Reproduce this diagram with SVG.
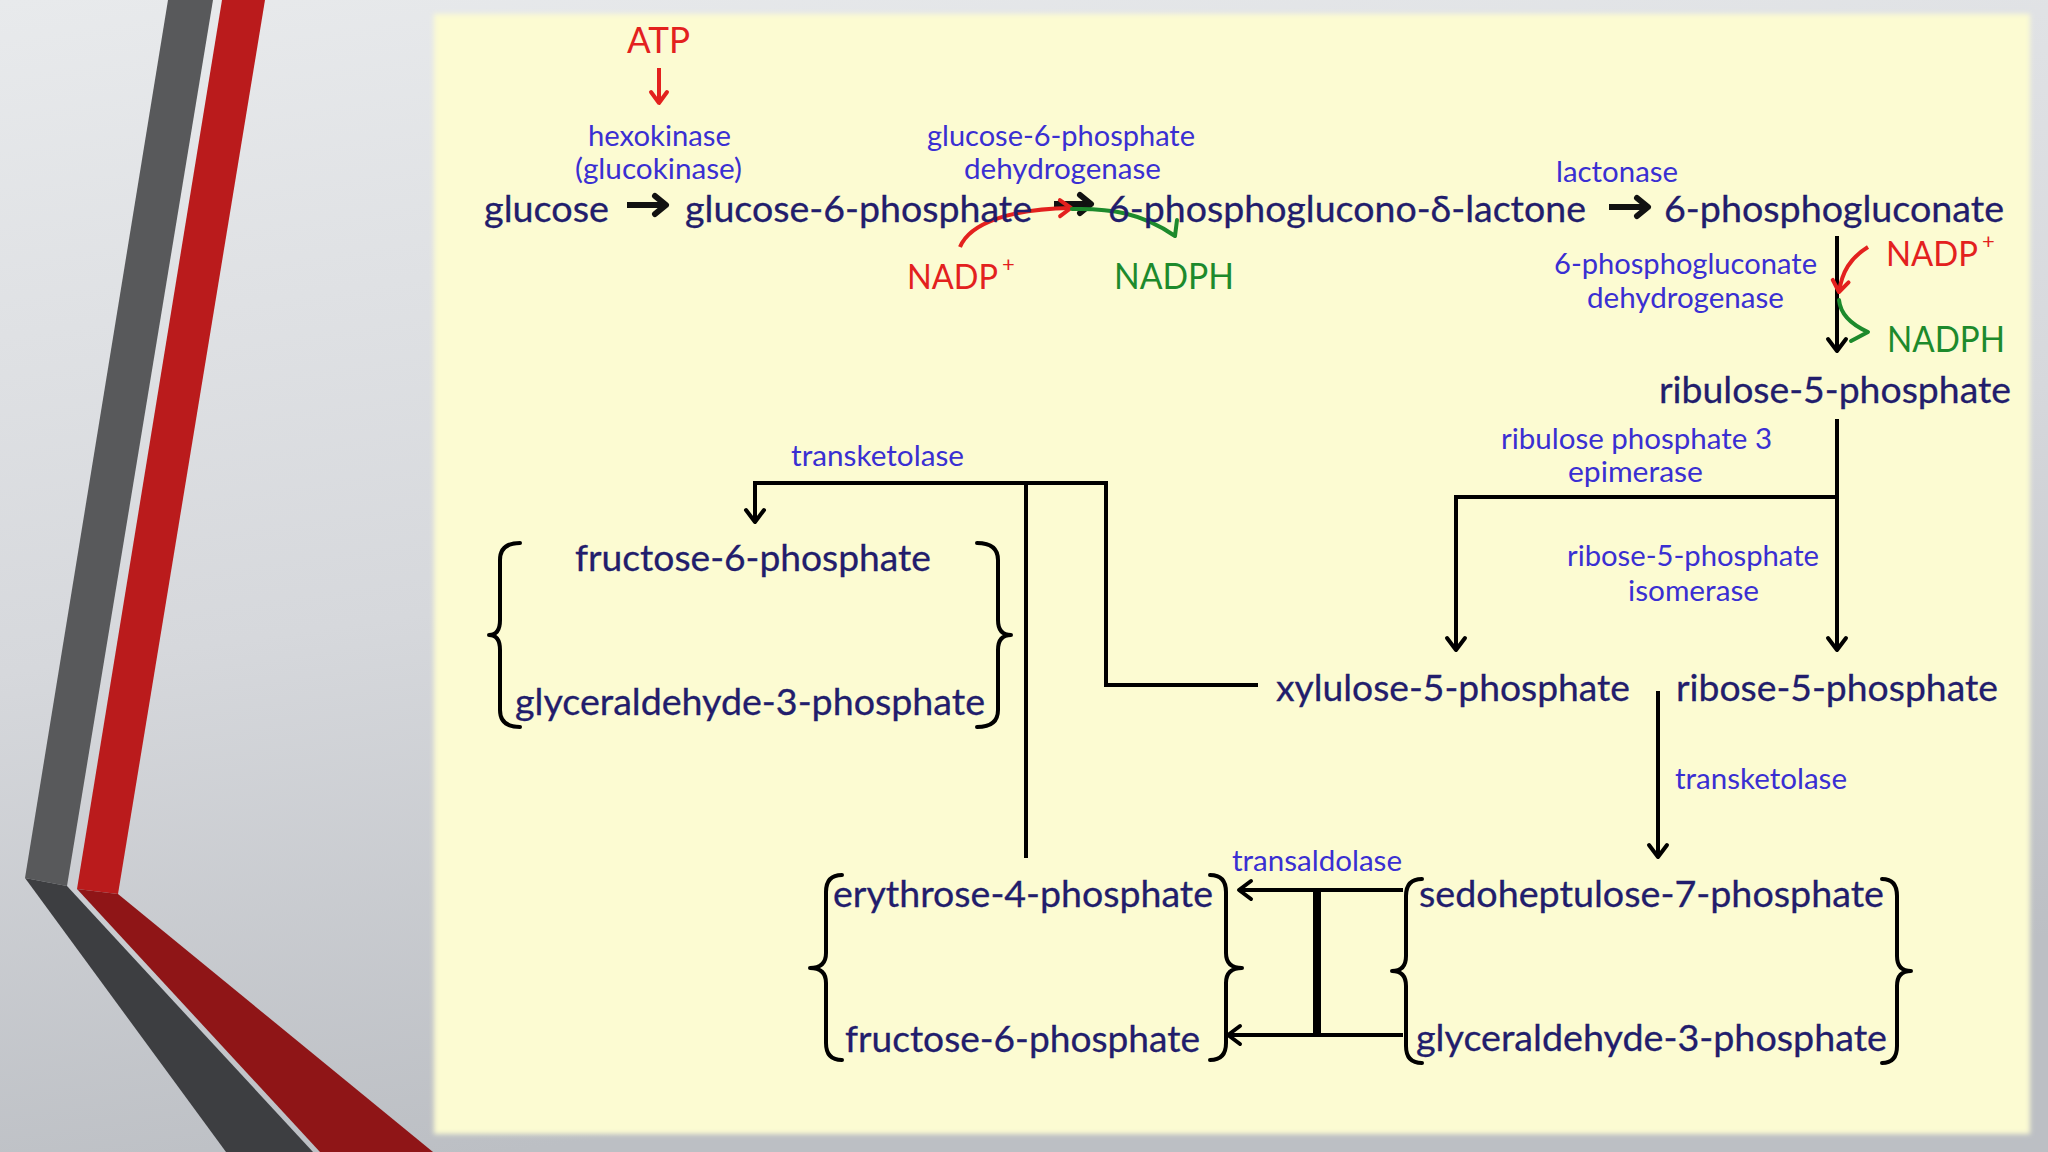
<svg xmlns="http://www.w3.org/2000/svg" width="2048" height="1152" viewBox="0 0 2048 1152">
<defs>
<linearGradient id="bg" x1="0" y1="0" x2="0.25" y2="1">
<stop offset="0" stop-color="#e8eaec"/>
<stop offset="0.55" stop-color="#d6d8dc"/>
<stop offset="1" stop-color="#bcbfc4"/>
</linearGradient>
<filter id="soft" x="-2%" y="-2%" width="104%" height="104%"><feGaussianBlur stdDeviation="2.5"/></filter>
<marker id="ah" viewBox="-16 -12 20 24" refX="0" refY="0" markerWidth="20" markerHeight="24" markerUnits="userSpaceOnUse" orient="auto" overflow="visible">
<path d="M-12,-9 L0,0 L-12,9" fill="none" stroke="#000" stroke-width="4" stroke-linecap="round" stroke-linejoin="round"/>
</marker>
<marker id="ahb" viewBox="-16 -12 20 24" refX="0" refY="0" markerWidth="20" markerHeight="24" markerUnits="userSpaceOnUse" orient="auto" overflow="visible">
<path d="M-11,-9 L0,0 L-11,9" fill="none" stroke="#111" stroke-width="6" stroke-linecap="round" stroke-linejoin="round"/>
</marker>
<marker id="ahr" viewBox="-16 -12 20 24" refX="0" refY="0" markerWidth="20" markerHeight="24" markerUnits="userSpaceOnUse" orient="auto" overflow="visible">
<path d="M-11,-8 L0,0 L-11,8" fill="none" stroke="#e3211e" stroke-width="4" stroke-linecap="round" stroke-linejoin="round"/>
</marker>
<style>
.m{font-family:Lato,"Open Sans","Liberation Sans",sans-serif;font-size:37px;fill:#221d6c;stroke:#221d6c;stroke-width:0.3px}
.e{font-family:Lato,"Open Sans","Liberation Sans",sans-serif;font-size:28.5px;fill:#3a2fd2}
.r{font-family:Lato,"Open Sans","Liberation Sans",sans-serif;font-size:37px;fill:#e3211e}
.rn{font-family:Lato,"Open Sans","Liberation Sans",sans-serif;font-size:34px;fill:#e3211e}
.sup{font-family:Lato,"Open Sans","Liberation Sans",sans-serif;font-size:22px;fill:#e3211e}
.g{font-family:Lato,"Open Sans","Liberation Sans",sans-serif;font-size:37px;fill:#1d8a2c}
.ln{fill:none;stroke:#000;stroke-width:4}
.br{fill:none;stroke:#000;stroke-width:4;stroke-linecap:round;stroke-linejoin:round}
</style>
</defs>

<g id="background">
<rect x="0" y="0" width="2048" height="1152" fill="url(#bg)"/>
<polygon points="168,0 213,0 67,886 25,878" fill="#58595b"/>
<polygon points="25,878 67,886 313,1152 226,1152" fill="#3d3e41"/>
<polygon points="222,0 265,0 118,894 77,889" fill="#ba1b1c"/>
<polygon points="77,889 118,894 433,1152 320,1152" fill="#8f1517"/>
<rect x="434" y="14" width="1596" height="1120" fill="#fcfbd2" filter="url(#soft)"/>
</g>

<g id="connectors">
<line x1="659" y1="68" x2="659" y2="103" stroke="#e3211e" stroke-width="4" marker-end="url(#ahr)"/>
<line x1="627" y1="205" x2="666" y2="205" stroke="#111" stroke-width="6" marker-end="url(#ahb)"/>
<line x1="1054" y1="204" x2="1091" y2="204" stroke="#111" stroke-width="6" marker-end="url(#ahb)"/>
<line x1="1609" y1="207" x2="1648" y2="207" stroke="#111" stroke-width="6" marker-end="url(#ahb)"/>
<path d="M960,247 C970,223 1010,209 1071,208" fill="none" stroke="#e3211e" stroke-width="4" marker-end="url(#ahr)"/>
<path d="M1072,209 C1110,208 1142,213 1175,236 L1177,220" fill="none" stroke="#1d8a2c" stroke-width="4" stroke-linejoin="round" stroke-linecap="round"/>
<line x1="1837" y1="236" x2="1837" y2="351" class="ln" marker-end="url(#ah)"/>
<path d="M1868,247 C1850,258 1842,272 1839,292" fill="none" stroke="#e3211e" stroke-width="4" marker-end="url(#ahr)"/>
<path d="M1839,300 Q1841,320 1868,332 L1851,341" fill="none" stroke="#1d8a2c" stroke-width="4" stroke-linejoin="round" stroke-linecap="round"/>
<line x1="1837" y1="419" x2="1837" y2="650" class="ln" marker-end="url(#ah)"/>
<polyline points="1837,497 1456,497 1456,650" class="ln" marker-end="url(#ah)"/>
<polyline points="1258,685 1106,685 1106,483 755,483 755,522" class="ln" marker-end="url(#ah)"/>
<line x1="1026" y1="483" x2="1026" y2="858" class="ln"/>
<line x1="1658" y1="691" x2="1658" y2="857" class="ln" marker-end="url(#ah)"/>
<line x1="1403" y1="890" x2="1239" y2="890" class="ln" marker-end="url(#ah)"/>
<line x1="1403" y1="1035" x2="1228" y2="1035" class="ln" marker-end="url(#ah)"/>
<line x1="1317" y1="890" x2="1317" y2="1035" stroke="#000" stroke-width="8"/>
</g>

<g id="cofactors">
<text class="r" x="627" y="53" textLength="63" lengthAdjust="spacingAndGlyphs">ATP</text>
<text class="rn" x="907" y="289" textLength="91" lengthAdjust="spacingAndGlyphs">NADP</text>
<text class="sup" x="1002" y="272">+</text>
<text class="g" x="1114" y="289" textLength="120" lengthAdjust="spacingAndGlyphs">NADPH</text>
<text class="rn" x="1886" y="266" textLength="92" lengthAdjust="spacingAndGlyphs">NADP</text>
<text class="sup" x="1982" y="249">+</text>
<text class="g" x="1887" y="352" textLength="118" lengthAdjust="spacingAndGlyphs">NADPH</text>
</g>

<g id="enzymes">
<text class="e" x="588" y="146" textLength="143" lengthAdjust="spacingAndGlyphs">hexokinase</text>
<text class="e" x="575" y="179" textLength="167" lengthAdjust="spacingAndGlyphs">(glucokinase)</text>
<text class="e" x="927" y="146" textLength="268" lengthAdjust="spacingAndGlyphs">glucose-6-phosphate</text>
<text class="e" x="964" y="179" textLength="197" lengthAdjust="spacingAndGlyphs">dehydrogenase</text>
<text class="e" x="1556" y="182" textLength="122" lengthAdjust="spacingAndGlyphs">lactonase</text>
<text class="e" x="1554" y="274" textLength="263" lengthAdjust="spacingAndGlyphs">6-phosphogluconate</text>
<text class="e" x="1587" y="308" textLength="197" lengthAdjust="spacingAndGlyphs">dehydrogenase</text>
<text class="e" x="1501" y="449" textLength="271" lengthAdjust="spacingAndGlyphs">ribulose phosphate 3</text>
<text class="e" x="1568" y="482" textLength="135" lengthAdjust="spacingAndGlyphs">epimerase</text>
<text class="e" x="1567" y="566" textLength="252" lengthAdjust="spacingAndGlyphs">ribose-5-phosphate</text>
<text class="e" x="1628" y="601" textLength="131" lengthAdjust="spacingAndGlyphs">isomerase</text>
<text class="e" x="791" y="466" textLength="173" lengthAdjust="spacingAndGlyphs">transketolase</text>
<text class="e" x="1675" y="789" textLength="172" lengthAdjust="spacingAndGlyphs">transketolase</text>
<text class="e" x="1232" y="871" textLength="170" lengthAdjust="spacingAndGlyphs">transaldolase</text>
</g>

<g id="glucose"><text class="m" x="484" y="222" textLength="125" lengthAdjust="spacingAndGlyphs">glucose</text></g>
<g id="glucose-6-phosphate"><text class="m" x="685" y="222" textLength="347" lengthAdjust="spacingAndGlyphs">glucose-6-phosphate</text></g>
<g id="phosphoglucono-lactone"><text class="m" x="1108" y="222" textLength="478" lengthAdjust="spacingAndGlyphs">6-phosphoglucono-δ-lactone</text></g>
<g id="phosphogluconate"><text class="m" x="1664" y="222" textLength="340" lengthAdjust="spacingAndGlyphs">6-phosphogluconate</text></g>
<g id="ribulose-5-phosphate"><text class="m" x="1659" y="403" textLength="352" lengthAdjust="spacingAndGlyphs">ribulose-5-phosphate</text></g>
<g id="xylulose-5-phosphate"><text class="m" x="1276" y="701" textLength="354" lengthAdjust="spacingAndGlyphs">xylulose-5-phosphate</text></g>
<g id="ribose-5-phosphate"><text class="m" x="1676" y="701" textLength="322" lengthAdjust="spacingAndGlyphs">ribose-5-phosphate</text></g>

<g id="products-transketolase">
<text class="m" x="575" y="571" textLength="356" lengthAdjust="spacingAndGlyphs">fructose-6-phosphate</text>
<text class="m" x="515" y="715" textLength="470" lengthAdjust="spacingAndGlyphs">glyceraldehyde-3-phosphate</text>
<path class="br" d="M520,543 Q500,543 500,560 L500,620 Q500,635 489,635 Q500,635 500,650 L500,710 Q500,727 520,727"/>
<path class="br" d="M977,543 Q998,543 998,560 L998,620 Q998,635 1011,635 Q998,635 998,650 L998,710 Q998,727 977,727"/>
</g>

<g id="products-transaldolase">
<text class="m" x="833" y="907" textLength="380" lengthAdjust="spacingAndGlyphs">erythrose-4-phosphate</text>
<text class="m" x="845" y="1052" textLength="355" lengthAdjust="spacingAndGlyphs">fructose-6-phosphate</text>
<path class="br" d="M842,875 Q826,875 826,892 L826,953 Q826,968 810,968 Q826,968 826,983 L826,1043 Q826,1060 842,1060"/>
<path class="br" d="M1210,875 Q1226,875 1226,892 L1226,953 Q1226,968 1242,968 Q1226,968 1226,983 L1226,1043 Q1226,1060 1210,1060"/>
</g>

<g id="substrates-transaldolase">
<text class="m" x="1419" y="907" textLength="465" lengthAdjust="spacingAndGlyphs">sedoheptulose-7-phosphate</text>
<text class="m" x="1416" y="1051" textLength="471" lengthAdjust="spacingAndGlyphs">glyceraldehyde-3-phosphate</text>
<path class="br" d="M1422,879 Q1406,879 1406,896 L1406,956 Q1406,971 1392,971 Q1406,971 1406,986 L1406,1046 Q1406,1063 1422,1063"/>
<path class="br" d="M1882,879 Q1897,879 1897,896 L1897,956 Q1897,971 1911,971 Q1897,971 1897,986 L1897,1046 Q1897,1063 1882,1063"/>
</g>
</svg>
